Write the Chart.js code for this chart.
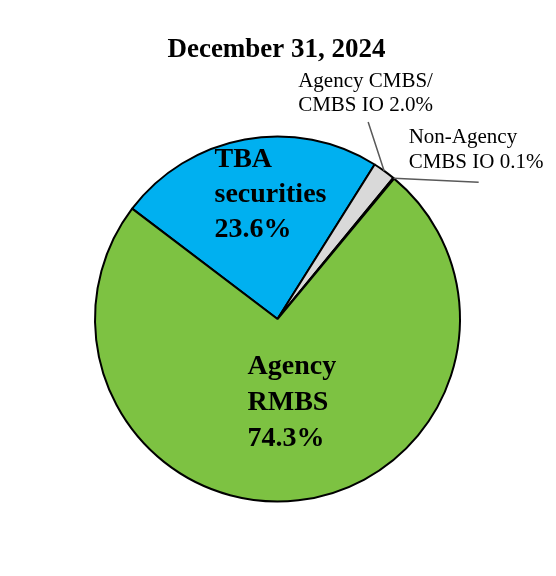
<!DOCTYPE html>
<html>
<head>
<meta charset="utf-8">
<script src="https://cdn.jsdelivr.net/npm/chart.js@4.4.1/dist/chart.umd.min.js"></script>
<style>
  html, body { margin: 0; padding: 0; background: #fff; }
  #wrap { width: 556px; height: 576px; }
</style>
</head>
<body>
<div id="wrap"><canvas id="pieChart" width="556" height="576"></canvas></div>
<script>
// Portfolio mix
const chartTitle = 'December 31, 2024';
const categories = ['TBA securities', 'Agency CMBS/CMBS IO', 'Non-Agency CMBS IO', 'Agency RMBS'];
const shares = [23.6, 2.0, 0.1, 74.3];
const sliceColors = ['#00B0F0', '#D9D9D9', '#F2F2F2', '#7DC242'];

// text shown on the chart, one array per slice
const tbaLines = ['TBA', 'securities', '23.6%'];
const rmbsLines = ['Agency', 'RMBS', '74.3%'];
const cmbsLines = ['Agency CMBS/', 'CMBS IO 2.0%'];
const nonAgencyLines = ['Non-Agency', 'CMBS IO 0.1%'];

const serif = '"Liberation Serif", "Times New Roman", serif';

function edgePoint(arc) {
    const mid = (arc.startAngle + arc.endAngle) / 2;
    return {
        x: arc.x + Math.cos(mid) * arc.outerRadius,
        y: arc.y + Math.sin(mid) * arc.outerRadius,
    };
}

function drawLines(c, lines, x, y, step) {
    lines.forEach((t, i) => c.fillText(t, x, y + i * step));
}

const labelPlugin = {
    id: 'labels',
    afterDatasetsDraw(chart) {
        const c = chart.ctx;
        const arcs = chart.getDatasetMeta(0).data;
        const cx = arcs[0].x;
        const cy = arcs[0].y;
        c.save();
        c.fillStyle = '#000';
        c.textBaseline = 'alphabetic';

        // title
        c.font = 'bold 27px ' + serif;
        c.textAlign = 'center';
        c.fillText(chartTitle, cx - 1, 57);

        // inside labels
        c.font = 'bold 28px ' + serif;
        c.textAlign = 'left';
        drawLines(c, tbaLines, cx - 63, cy - 152, 35);
        drawLines(c, rmbsLines, cx - 30, cy + 55, 36);

        // leader lines
        c.strokeStyle = '#595959';
        c.lineWidth = 1.5;
        const p1 = edgePoint(arcs[1]);
        const e1 = { x: p1.x - 16, y: p1.y - 49 };
        const p2 = edgePoint(arcs[2]);
        const e2 = { x: p2.x + 85, y: p2.y + 4 };
        c.beginPath();
        c.moveTo(p1.x, p1.y);
        c.lineTo(e1.x, e1.y);
        c.moveTo(p2.x, p2.y);
        c.lineTo(e2.x, e2.y);
        c.stroke();

        // outside labels
        c.font = '21px ' + serif;
        drawLines(c, cmbsLines, e1.x - 70, e1.y - 35, 24);
        drawLines(c, nonAgencyLines, e2.x - 70, e2.y - 39, 25);
        c.restore();
    },
};

const ctx = document.getElementById('pieChart').getContext('2d');

const pieChart = new Chart(ctx, {
    type: 'pie',
    data: {
        labels: categories,
        datasets: [
            {
                data: shares,
                backgroundColor: sliceColors,
                borderColor: '#000',
                borderWidth: 2,
            },
        ],
    },
    options: {
        responsive: false,
        animation: false,
        rotation: 307.2,
        layout: {
            padding: { left: 94, right: 95, top: 135, bottom: 73 },
        },
        plugins: {
            legend: { display: false },
            tooltip: { enabled: false },
        },
    },
    plugins: [labelPlugin],
});
</script>
</body>
</html>
